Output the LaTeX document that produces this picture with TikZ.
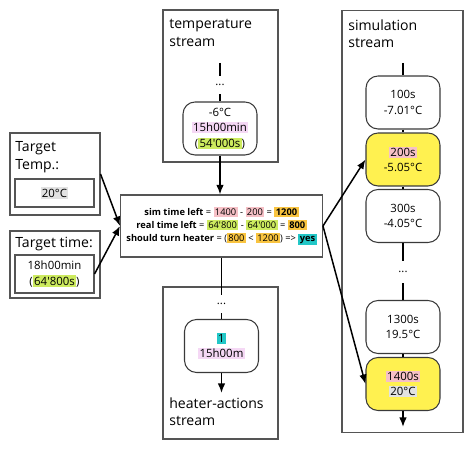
\documentclass[tikz,border=0pt]{standalone}
\usepackage{fontspec}
\setmainfont{Open Sans}
\usetikzlibrary{arrows.meta,positioning}
\definecolor{frameline}{HTML}{555555}
\definecolor{cardline}{HTML}{3A3A3A}
\definecolor{sunny}{HTML}{FFF150}
\definecolor{rose}{HTML}{F6C0C6}
\definecolor{lilac}{HTML}{F5D8F5}
\definecolor{lime}{HTML}{CDEB5F}
\definecolor{amber}{HTML}{F9C440}
\definecolor{aqua}{HTML}{22C7C7}
\definecolor{fog}{HTML}{E2E2E2}
\newcommand{\mk}[2]{{\setlength{\fboxsep}{0.8pt}\colorbox{#1}{#2}}}
\newcommand{\q}{\textquotesingle}
\tikzset{arr/.style={-{Latex[length=1.9mm,width=1.5mm]},line width=0.85pt,draw=black},
  link/.style={line width=0.85pt,draw=black},
  streambox/.style={draw=frameline,line width=0.6pt,inner sep=0pt},
  streamlabel/.style={anchor=north west,inner sep=0pt,align=left,font=\fontsize{8}{10.2}\selectfont},
  card/.style={draw=cardline,line width=0.6pt,rounded corners=2.4mm,fill=white,minimum width=1.48cm,minimum height=1.06cm,align=center,inner sep=1pt,font=\fontsize{6.5}{8.8}\selectfont},
  hotcard/.style={card,fill=sunny},
  setbox/.style={draw=frameline,line width=0.6pt,minimum width=1.58cm,align=center,inner sep=1pt,font=\fontsize{6.5}{8.8}\selectfont},
  gapdots/.style={inner sep=1.6mm,font=\fontsize{6.5}{7}\selectfont},
  calcbox/.style={draw=frameline,line width=0.6pt,fill=white,minimum width=4.0cm,minimum height=1.24cm,align=center,font=\fontsize{5.3}{7.3}\selectfont}}

\begin{document}
\begin{tikzpicture}[x=0.02cm,y=-0.02cm]
\useasboundingbox (0,0) rectangle (474,452);
\node[streambox,minimum width=1.8cm,minimum height=1.64cm] (goaltemp) at (55,174) {};
\node[streamlabel] (goaltemplabel) at (15,141) {Target\\Temp.:};
\node[setbox,minimum height=0.56cm] (goaltempset) at (54.5,193) {\mk{fog}{20°C}};
\node[streambox,minimum width=1.8cm,minimum height=1.34cm] (goaltime) at (55,264.5) {};
\node[streamlabel] (goaltimelabel) at (15,237) {Target time:};
\node[setbox,minimum height=0.76cm] (goaltimeset) at (54.5,274) {18h00min\\(\mk{lime}{64\q800s})};
\node[streambox,minimum width=2.3cm,minimum height=3.04cm] (tempstream) at (220.5,86) {};
\node[streamlabel] (templabel) at (169,19) {temperature\\stream};
\coordinate (temptop) at (220,63);
\node[gapdots] (tempdots) at (220,85) {...};
\node[card] (tempcard) at (220,128.5) {-6°C\\\mk{lilac}{15h00min}\\(\mk{lime}{54\q000s})};
\node[calcbox] (calc) at (221.5,226) {\textbf{sim time left} = \mk{rose}{1400} - \mk{rose}{200} = \mk{amber}{\textbf{1200}}\\
\textbf{real time left} = \mk{lime}{64\q800} - \mk{lime}{64\q000} = \mk{amber}{\textbf{800}}\\
\textbf{should turn heater} = (\mk{amber}{800} < \mk{amber}{1200}) => \mk{aqua}{\textbf{yes}}};
\node[streambox,minimum width=2.3cm,minimum height=3.04cm] (heatstream) at (220.5,363) {};
\node[gapdots] (heatdots) at (221.5,304) {...};
\node[card] (heatcard) at (221.5,346) {\mk{aqua}{1}\\\mk{lilac}{15h00m}};
\coordinate (heatend) at (221.5,393);
\node[streamlabel] (heatlabel) at (169,397) {heater-actions\\stream};
\node[streambox,minimum width=2.42cm,minimum height=8.46cm] (simstream) at (402.5,221.5) {};
\node[streamlabel] (simlabel) at (348,19) {simulation\\stream};
\coordinate (simtop) at (403,63);
\node[card] (sim100) at (403,102.5) {100s\\-7.01°C};
\node[hotcard] (sim200) at (403,159.5) {\mk{rose}{200s}\\-5.05°C};
\node[card] (sim300) at (403,216) {300s\\-4.05°C};
\node[gapdots,inner sep=2mm] (simdots) at (403,272) {...};
\node[card] (sim1300) at (403,327) {1300s\\19.5°C};
\node[hotcard] (sim1400) at (403,384) {\mk{rose}{1400s}\\\mk{fog}{20°C}};
\coordinate (simend) at (403,427);
\draw[link] (temptop) -- (tempdots);
\draw[link] (tempdots) -- (tempcard);
\draw[arr] (tempcard.south) -- (tempcard.south |- calc.north);
\draw[link] (calc.south) -- (heatdots);
\draw[link] (heatdots) -- (heatcard);
\draw[arr] (heatcard) -- (heatend);
\draw[arr] (goaltemp.east) -- (calc.west);
\draw[arr] (goaltimeset.east) -- (calc.west);
\draw[arr] (calc.east) -- (sim200.west);
\draw[arr] (calc.east) -- (sim1400.west);
\draw[link] (simtop) -- (sim100);
\draw[link] (sim100) -- (sim200);
\draw[link] (sim200) -- (sim300);
\draw[link] (sim300) -- (simdots);
\draw[link] (simdots) -- (sim1300);
\draw[link] (sim1300) -- (sim1400);
\draw[arr] (sim1400) -- (simend);
\end{tikzpicture}
\end{document}
